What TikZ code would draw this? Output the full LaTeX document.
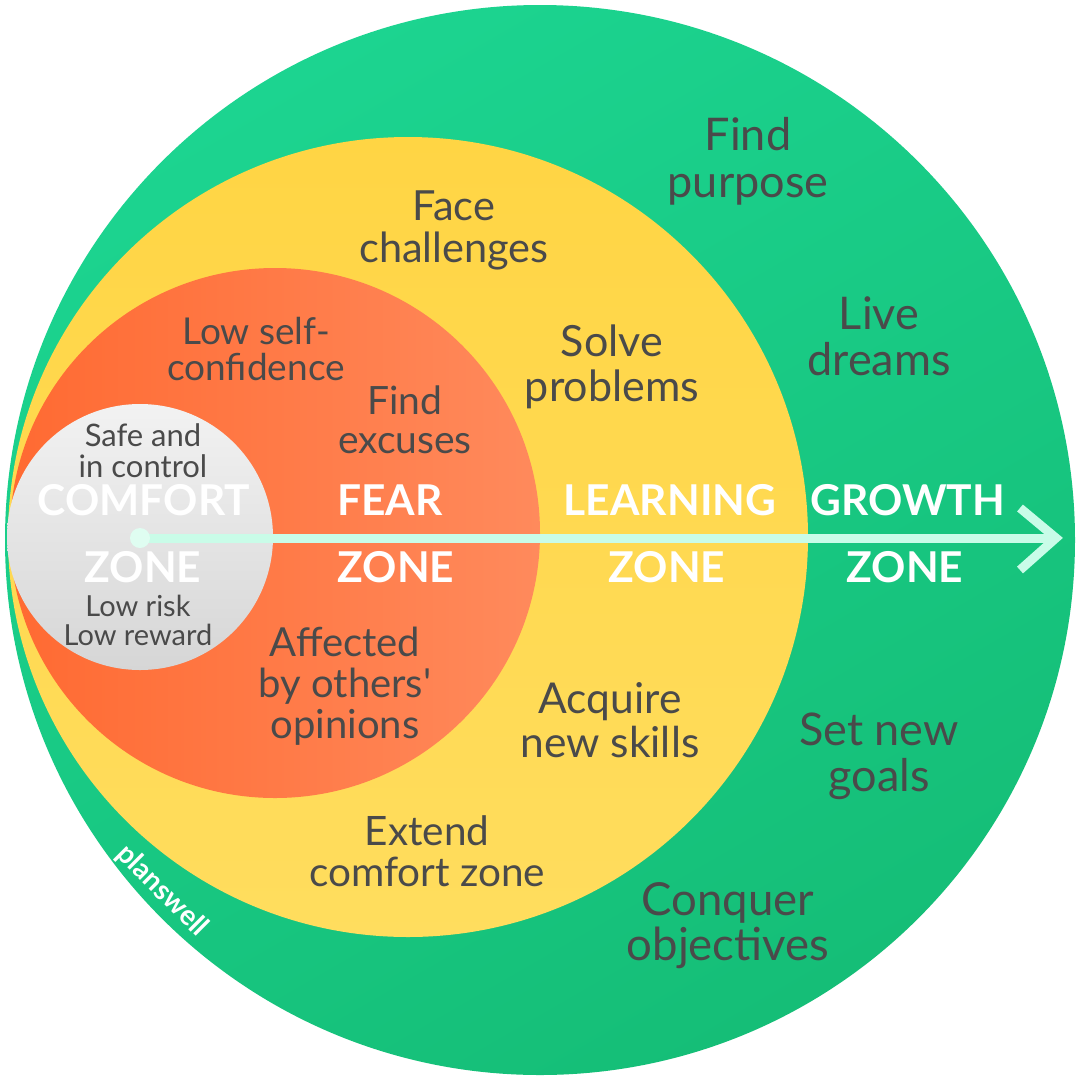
\documentclass[tikz,border=0pt]{standalone}
\usepackage{fontspec}
\setmainfont{Lato}[Ligatures=TeXOff]
\definecolor{grnA}{HTML}{1CD490}
\definecolor{grnB}{HTML}{15BE77}
\definecolor{yelA}{HTML}{FFD544}
\definecolor{yelB}{HTML}{FFDD5E}
\definecolor{orA}{HTML}{FF6A32}
\definecolor{orB}{HTML}{FF8A5C}
\definecolor{gryA}{HTML}{F2F2F2}
\definecolor{gryB}{HTML}{D6D6D6}
\definecolor{txtc}{HTML}{4A4A4A}
\definecolor{mint}{HTML}{C9FCE8}
\tikzset{
  txt/.style={text=txtc, align=center, inner sep=0pt},
  zonelbl/.style={text=white, inner sep=0pt, font=\bfseries\fontsize{42.5}{47}\selectfont}
}
\begin{document}
\begin{tikzpicture}[x=1pt,y=-1pt]
\useasboundingbox (0,0) rectangle (1080,1080);
\fill[white] (0,0) rectangle (1080,1080);
% circles
\shade[top color=grnA, bottom color=grnB, shading angle=30] (540,540) circle [radius=535pt];
\shade[top color=yelA, bottom color=yelB] (408,537) circle [radius=400pt];
\shade[left color=orA, right color=orB] (275,533) circle [radius=265pt];
\shade[top color=gryA, bottom color=gryB] (140,537) circle [radius=133pt];
% arrow
\coordinate (astart) at (140,538);
\coordinate (aend) at (1052,538);
\draw[mint, line width=9pt] (astart) -- (aend);
\draw[mint, line width=9pt, line join=miter] (1020,508) -- (1056,538) -- (1020,570);
\fill[mint!60!white] (astart) circle [radius=10pt];
% zone labels
\node[zonelbl] (comf) at (144,500) {COMFORT};
\node[zonelbl] (fear) at (390,500) {FEAR};
\node[zonelbl] (lear) at (670,500) {LEARNING};
\node[zonelbl] (grow) at (908,500) {GROWTH};
\node[zonelbl] (z1) at (143,567) {ZONE};
\node[zonelbl] (z2) at (396,567) {ZONE};
\node[zonelbl] (z3) at (667,567) {ZONE};
\node[zonelbl] (z4) at (905,567) {ZONE};
% texts
\node[txt, font=\fontsize{45}{47}\selectfont] (t1) at (748,161) {Find\\purpose};
\node[txt, font=\fontsize{41.5}{42}\selectfont] (t2) at (454,230) {Face\\challenges};
\node[txt, font=\fontsize{45}{46}\selectfont] (t3) at (879,336) {Live\\dreams};
\node[txt, font=\fontsize{37}{36}\selectfont] (t4) at (256,349) {Low self-\\confidence};
\node[txt, font=\fontsize{43}{45}\selectfont] (t5) at (612,367) {Solve\\problems};
\node[txt, font=\fontsize{39}{39}\selectfont] (t6) at (405,420) {Find\\excuses};
\node[txt, font=\fontsize{31}{31}\selectfont] (t7) at (143,451) {Safe and\\in control};
\node[txt, font=\fontsize{29}{29}\selectfont] (t8) at (138,620) {Low risk\\Low reward};
\node[txt, font=\fontsize{40}{41}\selectfont] (t9) at (345,686) {Affected\\by others'\\opinions};
\node[txt, font=\fontsize{42.5}{44}\selectfont] (t10) at (610,720) {Acquire\\new skills};
\node[txt, font=\fontsize{45}{46}\selectfont] (t11) at (879,756) {Set new\\goals};
\node[txt, font=\fontsize{40.5}{41}\selectfont] (t12) at (427,851) {Extend\\comfort zone};
\node[txt, font=\fontsize{45.5}{45}\selectfont] (t13) at (728,926) {Conquer\\objectives};
% logo
\node[text=white, inner sep=0pt, rotate=-45, font=\bfseries\fontsize{28}{28}\selectfont] (logo) at (162,891) {planswell};
\end{tikzpicture}
\end{document}
